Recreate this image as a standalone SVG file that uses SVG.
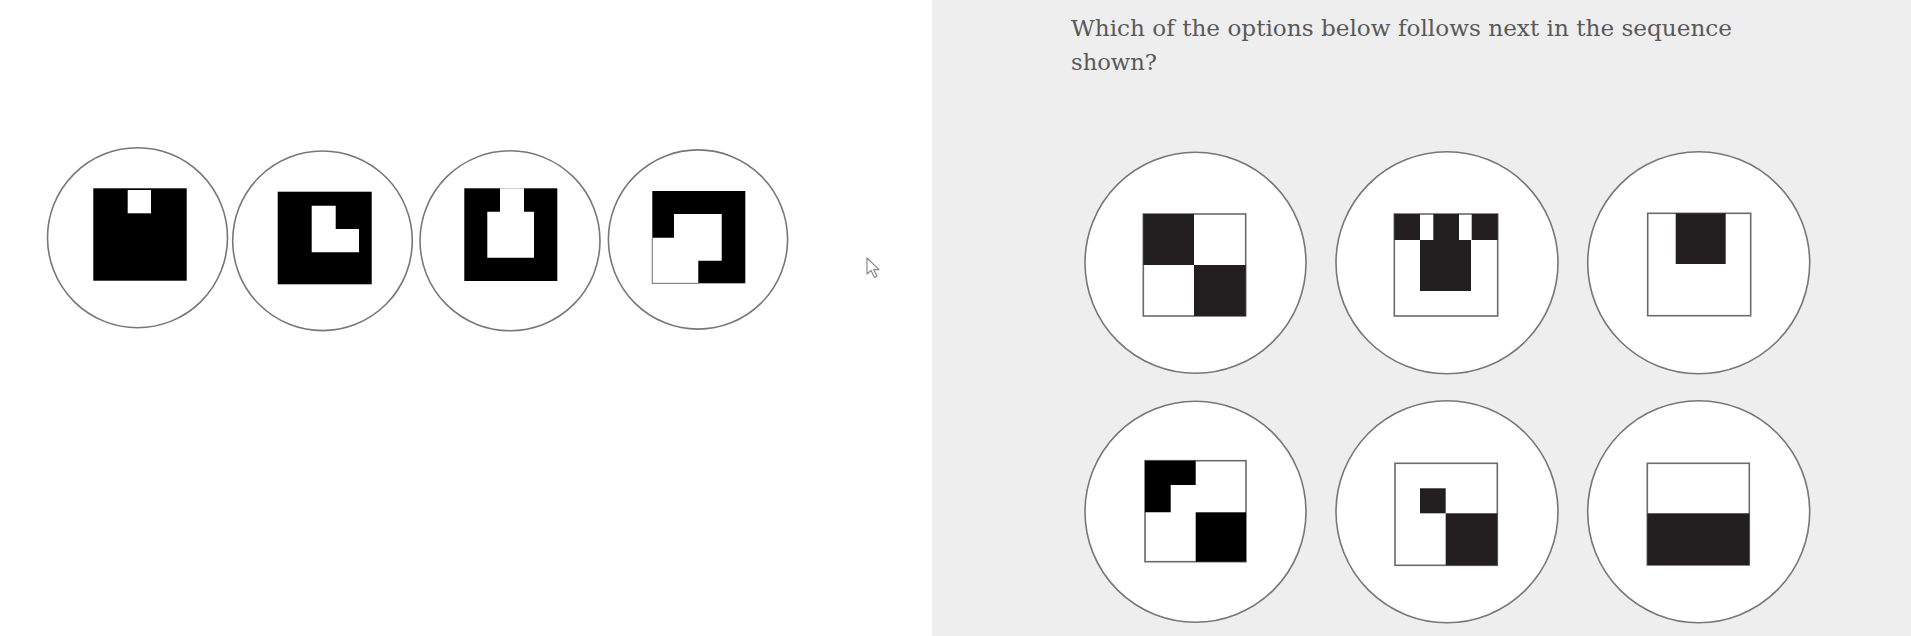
<svg xmlns="http://www.w3.org/2000/svg" width="1911" height="636" viewBox="0 0 1911 636">
  <style>
    .ring { fill: #ffffff; stroke: #777777; stroke-width: 1.6; }
    .seq { fill: #000000; }
    .hole { fill: #ffffff; }
    .box { fill: #ffffff; stroke: #6a6a6a; stroke-width: 1.6; }
    .ink { fill: #231f20; }
    .inkd { fill: #000000; }
    .q { font-family: "DejaVu Serif", "Liberation Serif", serif; font-size: 22px; fill: #595959; }
  </style>
  <rect x="0" y="0" width="1911" height="636" fill="#ffffff"/>
  <rect id="panel" x="932" y="0" width="979" height="636" fill="#eeeeee"/>

  <g id="question">
    <text class="q" x="1071" y="35.5" textLength="661" lengthAdjust="spacingAndGlyphs">Which of the options below follows next in the sequence</text>
    <text class="q" x="1071" y="69.5" textLength="86" lengthAdjust="spacingAndGlyphs">shown?</text>
  </g>

  <g id="seq1">
    <circle class="ring" cx="137.5" cy="237.7" r="90"/>
    <rect class="seq" x="93.3" y="188.3" width="93.4" height="92.4"/>
    <rect class="hole" x="127.7" y="190" width="23.3" height="23.3"/>
  </g>
  <g id="seq2">
    <circle class="ring" cx="322.5" cy="240.8" r="89.8"/>
    <rect class="seq" x="277.7" y="191.7" width="94" height="92.6"/>
    <path class="hole" d="M311.7,205.7 H335.7 V229 H359 V252.3 H311.7 Z"/>
  </g>
  <g id="seq3">
    <circle class="ring" cx="510" cy="240.8" r="90"/>
    <rect class="seq" x="464.3" y="188.3" width="93" height="92.7"/>
    <path class="hole" d="M500,188.3 H524 V211.7 H534 V257.7 H487.3 V211.7 H500 Z"/>
  </g>
  <g id="seq4">
    <circle class="ring" cx="698" cy="239.5" r="89.6"/>
    <rect class="seq" x="652.3" y="191" width="93" height="92.3"/>
    <path class="hole" d="M674,214 H721.7 V260.7 H698.3 V283.3 H652.3 V237.7 H674 Z"/>
    <polyline points="652.3,237.7 652.3,283.3 698.3,283.3" fill="none" stroke="#8a8a8a" stroke-width="1.2"/>
  </g>

  <g id="cursor">
    <path d="M867,258 V274 L871,270.5 L874.5,277.5 L877,276.3 L873.7,269.6 L879,269.6 Z" fill="#ffffff" stroke="#8a8a8a" stroke-width="1.2" stroke-linejoin="round"/>
  </g>

  <g id="optionA">
    <circle class="ring" cx="1195.5" cy="262.8" r="110.5"/>
    <rect class="box" x="1143.3" y="214" width="102.4" height="102"/>
    <rect class="ink" x="1143.3" y="214" width="50.7" height="51"/>
    <rect class="ink" x="1194" y="265" width="51.7" height="51"/>
  </g>
  <g id="optionB">
    <circle class="ring" cx="1447" cy="262.8" r="111"/>
    <rect class="box" x="1394.3" y="214" width="103.4" height="102"/>
    <rect class="ink" x="1394.3" y="214" width="25.7" height="26"/>
    <rect class="ink" x="1433.3" y="214" width="25.7" height="26"/>
    <rect class="ink" x="1471.7" y="214" width="26" height="26"/>
    <rect class="ink" x="1420" y="240" width="51" height="51"/>
  </g>
  <g id="optionC">
    <circle class="ring" cx="1698.7" cy="262.8" r="111"/>
    <rect class="box" x="1647.7" y="213.3" width="103" height="102.4"/>
    <rect class="ink" x="1675.7" y="213.3" width="50" height="50.7"/>
  </g>
  <g id="optionD">
    <circle class="ring" cx="1195.5" cy="511.7" r="110.5"/>
    <rect class="box" x="1145" y="460.7" width="101" height="101"/>
    <path class="inkd" d="M1145,460.7 H1195.7 V485 H1170.7 V512.3 H1145 Z"/>
    <rect class="inkd" x="1195.7" y="512.3" width="50.3" height="49.4"/>
  </g>
  <g id="optionE">
    <circle class="ring" cx="1447" cy="511.7" r="111"/>
    <rect class="box" x="1395" y="463.3" width="102.3" height="102"/>
    <rect class="ink" x="1420" y="488.3" width="25.7" height="25"/>
    <rect class="ink" x="1445.7" y="513.3" width="51.6" height="52"/>
  </g>
  <g id="optionF">
    <circle class="ring" cx="1698.7" cy="511.7" r="111"/>
    <rect class="box" x="1647.3" y="463.3" width="102" height="101.7"/>
    <rect class="ink" x="1647.3" y="513.3" width="102" height="51.7"/>
  </g>

  <g id="connectors"/>
</svg>
